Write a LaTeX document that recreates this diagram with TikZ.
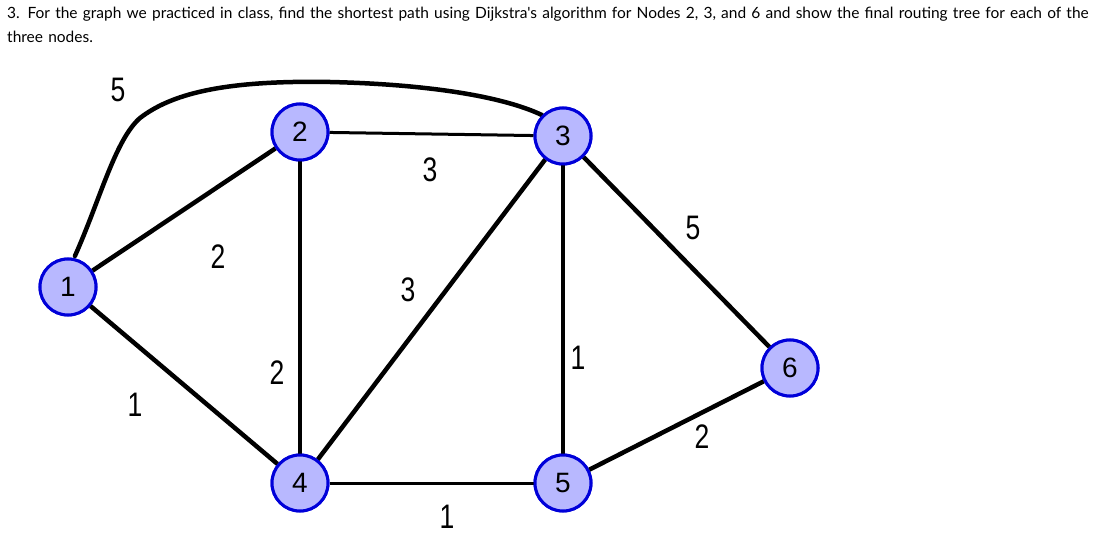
\documentclass[tikz,border=0pt]{standalone}
\usepackage{fontspec}
\setmainfont{Liberation Sans}
\newfontfamily\hdfont{Lato}
\begin{document}
\begin{tikzpicture}[x=1pt,y=-1pt,
  vtx/.style={circle,draw=blue!85!black,line width=3pt,fill=blue!28!white,minimum size=56pt,inner sep=0pt,font=\fontsize{28}{28}\selectfont},
  edge/.style={line width=4.5pt,black},
  wlabel/.style={font=\fontsize{34}{34}\selectfont,xscale=0.78}]
\useasboundingbox (0,0) rectangle (1097,537);
\node[anchor=north west,align=left,text width=1090pt,font=\hdfont\fontsize{15.5}{24}\selectfont,inner sep=0pt] (hdr) at (7,7)
 {3. For the graph we practiced in class, find the shortest path using Dijkstra's algorithm for Nodes 2, 3, and 6 and show the final routing tree for each of the three nodes.};
\node[vtx] (n1) at (68,287) {};
\node[vtx] (n2) at (300,132) {};
\node[vtx] (n3) at (563,136) {};
\node[vtx] (n4) at (300,483) {};
\node[vtx] (n5) at (563,483) {};
\node[vtx] (n6) at (790,368) {};
\draw[edge] (n1) -- (n2);
\draw[edge] (n1) -- (n4);
\draw[edge,line width=3pt] (n2) -- (n3);
\draw[edge,line width=3.5pt] (n2) -- (n4);
\draw[edge] (n3) -- (n4);
\draw[edge] (n3) -- (n5);
\draw[edge] (n3) -- (n6);
\draw[edge,line width=3pt] (n4) -- (n5);
\draw[edge] (n5) -- (n6);
\draw[edge,line cap=round] (n1.north east) ++(-14,-10) coordinate (c1)
  .. controls (100,200) and (115,140) .. (140,118)
  .. controls (170,95) and (220,80) .. (330,82)
  .. controls (420,84) and (500,95) .. (n3.north west);
\foreach \n/\t in {n1/1,n2/2,n3/3,n4/4,n5/5,n6/6}
  \node[vtx] at (\n) {\t};
\node[wlabel] (l15) at (118,90) {5};
\node[wlabel] (l12) at (218,257) {2};
\node[wlabel] (l14) at (135,405) {1};
\node[wlabel] (l23) at (430,170) {3};
\node[wlabel] (l34) at (408,290) {3};
\node[wlabel] (l24) at (277,373) {2};
\node[wlabel] (l35) at (578,358) {1};
\node[wlabel] (l36) at (693,228) {5};
\node[wlabel] (l56) at (702,437) {2};
\node[wlabel] (l45) at (447,517) {1};
\end{tikzpicture}
\end{document}
